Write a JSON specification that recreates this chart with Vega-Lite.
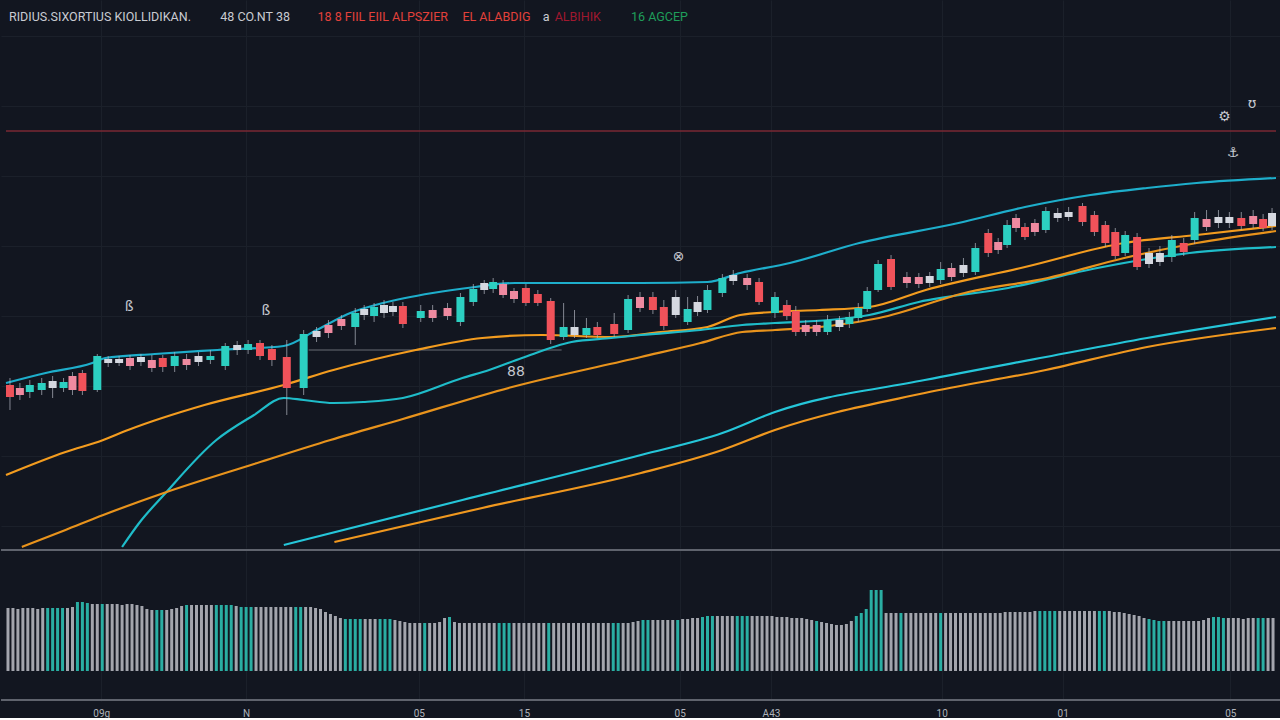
{
"$schema": "https://vega.github.io/schema/vega-lite/v6.json",
"background": "#121620",
"padding": 0,
"spacing": 0,
"config": {"view": {"stroke": null}, "axis": {"domain": false, "ticks": false, "gridColor": "#1b202a", "gridWidth": 1, "title": null}},
"resolve": {"scale": {"x": "independent", "y": "independent", "color": "independent"}},
"datasets": {
"header": [
{"t": 3, "s": "RIDIUS.SIXORTIUS KIOLLIDIKAN.", "g": "w"},
{"t": 216, "s": "48   CO.NT   38", "g": "w"},
{"t": 314, "s": "18 8 FIIL EIIL ALPSZIER", "g": "r"},
{"t": 460, "s": "EL ALABDIG", "g": "r"},
{"t": 541, "s": "a", "g": "w"},
{"t": 553, "s": "ALBIHIK", "g": "m"},
{"t": 630, "s": "16 AGCEP", "g": "g"}
],
"notes": [
{"t": 124, "p": 241, "s": "ß"},
{"t": 262, "p": 237, "s": "ß"},
{"t": 678, "p": 291, "s": "⊗"},
{"t": 514, "p": 176, "s": "88"},
{"t": 1228, "p": 431, "s": "⚙"},
{"t": 1256, "p": 444, "s": "ʊ"},
{"t": 1237, "p": 395, "s": "⚓"}
],
"levels": [
{"s": "res", "a": 0, "b": 1280, "p": 417},
{"s": "base", "a": 305, "b": 560, "p": 198}
],
"lines": [
{"s":"upper","t":0,"p":165},{"s":"upper","t":40,"p":175},{"s":"upper","t":87,"p":185},{"s":"upper","t":100,"p":190},{"s":"upper","t":150,"p":194},{"s":"upper","t":213,"p":198},{"s":"upper","t":280,"p":202},{"s":"upper","t":313,"p":218},{"s":"upper","t":347,"p":235},{"s":"upper","t":380,"p":245},{"s":"upper","t":430,"p":255},{"s":"upper","t":473,"p":261},{"s":"upper","t":513,"p":265},{"s":"upper","t":580,"p":265},{"s":"upper","t":640,"p":265},{"s":"upper","t":707,"p":266},{"s":"upper","t":740,"p":275},{"s":"upper","t":790,"p":285},{"s":"upper","t":860,"p":305},{"s":"upper","t":960,"p":325},{"s":"upper","t":1027,"p":341},{"s":"upper","t":1093,"p":353},{"s":"upper","t":1150,"p":360},{"s":"upper","t":1200,"p":365},{"s":"upper","t":1280,"p":370},
{"s":"ma","t":0,"p":73},{"s":"ma","t":60,"p":96},{"s":"ma","t":98,"p":108},{"s":"ma","t":123,"p":118},{"s":"ma","t":200,"p":143},{"s":"ma","t":280,"p":163},{"s":"ma","t":330,"p":178},{"s":"ma","t":413,"p":198},{"s":"ma","t":480,"p":210},{"s":"ma","t":540,"p":213},{"s":"ma","t":610,"p":211},{"s":"ma","t":660,"p":216},{"s":"ma","t":707,"p":221},{"s":"ma","t":740,"p":233},{"s":"ma","t":773,"p":236},{"s":"ma","t":820,"p":238},{"s":"ma","t":870,"p":241},{"s":"ma","t":927,"p":258},{"s":"ma","t":1027,"p":281},{"s":"ma","t":1127,"p":305},{"s":"ma","t":1200,"p":313},{"s":"ma","t":1280,"p":322},
{"s":"fast","t":117,"p":1},{"s":"fast","t":135,"p":26},{"s":"fast","t":159,"p":53},{"s":"fast","t":212,"p":108},{"s":"fast","t":250,"p":133},{"s":"fast","t":280,"p":150},{"s":"fast","t":300,"p":148},{"s":"fast","t":330,"p":145},{"s":"fast","t":360,"p":146},{"s":"fast","t":400,"p":150},{"s":"fast","t":460,"p":170},{"s":"fast","t":487,"p":178},{"s":"fast","t":520,"p":190},{"s":"fast","t":570,"p":206},{"s":"fast","t":610,"p":210},{"s":"fast","t":640,"p":213},{"s":"fast","t":700,"p":218},{"s":"fast","t":742,"p":223},{"s":"fast","t":775,"p":225},{"s":"fast","t":830,"p":228},{"s":"fast","t":870,"p":233},{"s":"fast","t":920,"p":246},{"s":"fast","t":1010,"p":260},{"s":"fast","t":1100,"p":280},{"s":"fast","t":1193,"p":295},{"s":"fast","t":1280,"p":301},
{"s":"slow","t":16,"p":1},{"s":"slow","t":60,"p":18},{"s":"slow","t":98,"p":33},{"s":"slow","t":159,"p":55},{"s":"slow","t":250,"p":84},{"s":"slow","t":327,"p":108},{"s":"slow","t":400,"p":129},{"s":"slow","t":510,"p":161},{"s":"slow","t":640,"p":191},{"s":"slow","t":700,"p":205},{"s":"slow","t":742,"p":216},{"s":"slow","t":775,"p":218},{"s":"slow","t":830,"p":222},{"s":"slow","t":880,"p":230},{"s":"slow","t":970,"p":256},{"s":"slow","t":1050,"p":270},{"s":"slow","t":1127,"p":290},{"s":"slow","t":1200,"p":305},{"s":"slow","t":1280,"p":317},
{"s":"bigc","t":280,"p":3},{"s":"bigc","t":460,"p":48},{"s":"bigc","t":640,"p":93},{"s":"bigc","t":722,"p":115},{"s":"bigc","t":775,"p":136},{"s":"bigc","t":926,"p":168},{"s":"bigc","t":1048,"p":191},{"s":"bigc","t":1150,"p":210},{"s":"bigc","t":1280,"p":231},
{"s":"bigo","t":331,"p":6},{"s":"bigo","t":480,"p":40},{"s":"bigo","t":640,"p":75},{"s":"bigo","t":722,"p":98},{"s":"bigo","t":775,"p":118},{"s":"bigo","t":926,"p":155},{"s":"bigo","t":1048,"p":178},{"s":"bigo","t":1150,"p":201},{"s":"bigo","t":1280,"p":220}
],
"candles": [
{"t":4,"o":163,"c":151,"hi":170,"lo":138,"k":"down"},
{"t":14,"o":160,"c":153,"hi":165,"lo":148,"k":"minor"},
{"t":24,"o":156,"c":163,"hi":168,"lo":150,"k":"up"},
{"t":36,"o":158,"c":165,"hi":170,"lo":153,"k":"up"},
{"t":47,"o":167,"c":160,"hi":172,"lo":150,"k":"doji"},
{"t":58,"o":160,"c":166,"hi":170,"lo":156,"k":"up"},
{"t":67,"o":172,"c":158,"hi":176,"lo":153,"k":"minor"},
{"t":77,"o":175,"c":157,"hi":178,"lo":153,"k":"down"},
{"t":92,"o":158,"c":192,"hi":194,"lo":156,"k":"up"},
{"t":103,"o":189,"c":185,"hi":192,"lo":181,"k":"doji"},
{"t":114,"o":189,"c":185,"hi":192,"lo":182,"k":"doji"},
{"t":125,"o":190,"c":182,"hi":193,"lo":178,"k":"minor"},
{"t":136,"o":191,"c":186,"hi":194,"lo":182,"k":"doji"},
{"t":147,"o":188,"c":180,"hi":193,"lo":176,"k":"minor"},
{"t":158,"o":190,"c":181,"hi":193,"lo":176,"k":"down"},
{"t":170,"o":182,"c":192,"hi":196,"lo":176,"k":"up"},
{"t":182,"o":189,"c":183,"hi":194,"lo":178,"k":"minor"},
{"t":194,"o":192,"c":186,"hi":196,"lo":182,"k":"doji"},
{"t":206,"o":188,"c":192,"hi":198,"lo":184,"k":"up"},
{"t":221,"o":182,"c":202,"hi":205,"lo":178,"k":"up"},
{"t":233,"o":203,"c":198,"hi":207,"lo":193,"k":"doji"},
{"t":244,"o":198,"c":204,"hi":208,"lo":194,"k":"up"},
{"t":256,"o":205,"c":192,"hi":208,"lo":188,"k":"down"},
{"t":268,"o":199,"c":188,"hi":203,"lo":182,"k":"down"},
{"t":283,"o":191,"c":160,"hi":208,"lo":133,"k":"down"},
{"t":300,"o":160,"c":214,"hi":218,"lo":153,"k":"up"},
{"t":313,"o":217,"c":211,"hi":221,"lo":206,"k":"doji"},
{"t":325,"o":223,"c":215,"hi":228,"lo":210,"k":"minor"},
{"t":338,"o":229,"c":222,"hi":233,"lo":218,"k":"minor"},
{"t":352,"o":221,"c":235,"hi":240,"lo":203,"k":"up"},
{"t":361,"o":239,"c":233,"hi":243,"lo":228,"k":"doji"},
{"t":371,"o":232,"c":241,"hi":245,"lo":226,"k":"up"},
{"t":381,"o":243,"c":235,"hi":248,"lo":230,"k":"doji"},
{"t":390,"o":242,"c":236,"hi":246,"lo":232,"k":"doji"},
{"t":400,"o":242,"c":224,"hi":246,"lo":220,"k":"down"},
{"t":418,"o":230,"c":237,"hi":243,"lo":226,"k":"up"},
{"t":430,"o":238,"c":230,"hi":243,"lo":226,"k":"minor"},
{"t":445,"o":240,"c":232,"hi":245,"lo":228,"k":"minor"},
{"t":458,"o":226,"c":251,"hi":255,"lo":222,"k":"up"},
{"t":471,"o":246,"c":259,"hi":264,"lo":242,"k":"up"},
{"t":482,"o":265,"c":258,"hi":268,"lo":254,"k":"doji"},
{"t":491,"o":259,"c":266,"hi":270,"lo":255,"k":"up"},
{"t":501,"o":264,"c":253,"hi":268,"lo":250,"k":"minor"},
{"t":512,"o":257,"c":249,"hi":260,"lo":245,"k":"minor"},
{"t":524,"o":260,"c":245,"hi":264,"lo":242,"k":"down"},
{"t":536,"o":254,"c":245,"hi":258,"lo":242,"k":"down"},
{"t":549,"o":247,"c":208,"hi":250,"lo":204,"k":"down"},
{"t":562,"o":211,"c":221,"hi":245,"lo":208,"k":"up"},
{"t":573,"o":221,"c":213,"hi":238,"lo":210,"k":"doji"},
{"t":585,"o":213,"c":220,"hi":230,"lo":210,"k":"up"},
{"t":596,"o":221,"c":213,"hi":226,"lo":210,"k":"down"},
{"t":613,"o":224,"c":214,"hi":235,"lo":211,"k":"down"},
{"t":627,"o":218,"c":249,"hi":253,"lo":215,"k":"up"},
{"t":639,"o":251,"c":240,"hi":256,"lo":236,"k":"minor"},
{"t":652,"o":251,"c":238,"hi":256,"lo":234,"k":"down"},
{"t":663,"o":241,"c":222,"hi":248,"lo":218,"k":"down"},
{"t":675,"o":251,"c":233,"hi":258,"lo":230,"k":"doji"},
{"t":687,"o":226,"c":239,"hi":251,"lo":223,"k":"up"},
{"t":697,"o":246,"c":236,"hi":252,"lo":232,"k":"doji"},
{"t":707,"o":238,"c":258,"hi":263,"lo":235,"k":"up"},
{"t":722,"o":255,"c":270,"hi":274,"lo":251,"k":"up"},
{"t":733,"o":273,"c":267,"hi":278,"lo":263,"k":"doji"},
{"t":747,"o":270,"c":263,"hi":274,"lo":258,"k":"minor"},
{"t":759,"o":266,"c":246,"hi":270,"lo":243,"k":"down"},
{"t":775,"o":235,"c":251,"hi":256,"lo":230,"k":"up"},
{"t":787,"o":243,"c":232,"hi":248,"lo":228,"k":"down"},
{"t":796,"o":237,"c":216,"hi":242,"lo":212,"k":"down"},
{"t":806,"o":223,"c":216,"hi":228,"lo":212,"k":"minor"},
{"t":817,"o":223,"c":216,"hi":228,"lo":212,"k":"minor"},
{"t":828,"o":216,"c":228,"hi":233,"lo":213,"k":"up"},
{"t":840,"o":228,"c":221,"hi":232,"lo":217,"k":"doji"},
{"t":850,"o":224,"c":231,"hi":236,"lo":220,"k":"up"},
{"t":859,"o":230,"c":240,"hi":245,"lo":226,"k":"up"},
{"t":868,"o":239,"c":257,"hi":261,"lo":236,"k":"up"},
{"t":879,"o":258,"c":284,"hi":288,"lo":256,"k":"up"},
{"t":892,"o":289,"c":261,"hi":293,"lo":258,"k":"down"},
{"t":908,"o":271,"c":265,"hi":276,"lo":260,"k":"minor"},
{"t":920,"o":271,"c":264,"hi":275,"lo":260,"k":"minor"},
{"t":931,"o":272,"c":265,"hi":276,"lo":261,"k":"doji"},
{"t":942,"o":268,"c":279,"hi":286,"lo":264,"k":"up"},
{"t":953,"o":280,"c":271,"hi":285,"lo":267,"k":"minor"},
{"t":965,"o":283,"c":275,"hi":290,"lo":271,"k":"doji"},
{"t":977,"o":276,"c":300,"hi":305,"lo":273,"k":"up"},
{"t":990,"o":315,"c":295,"hi":319,"lo":291,"k":"down"},
{"t":1000,"o":306,"c":298,"hi":310,"lo":294,"k":"minor"},
{"t":1009,"o":303,"c":323,"hi":328,"lo":300,"k":"up"},
{"t":1018,"o":330,"c":320,"hi":334,"lo":316,"k":"minor"},
{"t":1027,"o":321,"c":311,"hi":325,"lo":308,"k":"down"},
{"t":1037,"o":325,"c":316,"hi":329,"lo":312,"k":"minor"},
{"t":1048,"o":318,"c":337,"hi":341,"lo":315,"k":"up"},
{"t":1060,"o":335,"c":330,"hi":340,"lo":326,"k":"doji"},
{"t":1071,"o":336,"c":331,"hi":341,"lo":327,"k":"doji"},
{"t":1085,"o":342,"c":326,"hi":345,"lo":322,"k":"down"},
{"t":1097,"o":333,"c":316,"hi":337,"lo":312,"k":"down"},
{"t":1108,"o":323,"c":305,"hi":327,"lo":301,"k":"down"},
{"t":1118,"o":316,"c":292,"hi":320,"lo":289,"k":"down"},
{"t":1128,"o":295,"c":313,"hi":317,"lo":292,"k":"up"},
{"t":1140,"o":311,"c":281,"hi":315,"lo":278,"k":"down"},
{"t":1152,"o":295,"c":284,"hi":300,"lo":280,"k":"doji"},
{"t":1163,"o":295,"c":286,"hi":302,"lo":282,"k":"doji"},
{"t":1175,"o":291,"c":308,"hi":313,"lo":286,"k":"up"},
{"t":1187,"o":305,"c":296,"hi":310,"lo":292,"k":"down"},
{"t":1198,"o":308,"c":330,"hi":336,"lo":304,"k":"up"},
{"t":1210,"o":329,"c":321,"hi":338,"lo":317,"k":"minor"},
{"t":1222,"o":331,"c":325,"hi":338,"lo":320,"k":"doji"},
{"t":1233,"o":331,"c":325,"hi":336,"lo":320,"k":"doji"},
{"t":1245,"o":330,"c":322,"hi":336,"lo":318,"k":"down"},
{"t":1257,"o":332,"c":324,"hi":338,"lo":320,"k":"minor"},
{"t":1267,"o":329,"c":320,"hi":334,"lo":317,"k":"down"},
{"t":1276,"o":335,"c":322,"hi":340,"lo":318,"k":"doji"}
],
"vol": [
{"x":2,"v":63,"c":"g"},{"x":7,"v":63,"c":"g"},{"x":12,"v":62,"c":"g"},{"x":17,"v":63,"c":"g"},{"x":22,"v":63,"c":"g"},{"x":27,"v":63,"c":"g"},{"x":32,"v":62,"c":"g"},{"x":37,"v":63,"c":"g"},{"x":42,"v":63,"c":"t"},{"x":47,"v":63,"c":"t"},
{"x":52,"v":63,"c":"t"},{"x":57,"v":63,"c":"t"},{"x":62,"v":63,"c":"g"},{"x":67,"v":64,"c":"g"},{"x":72,"v":69,"c":"t"},{"x":77,"v":69,"c":"t"},{"x":82,"v":68,"c":"t"},{"x":87,"v":67,"c":"g"},{"x":92,"v":67,"c":"g"},{"x":97,"v":67,"c":"t"},
{"x":102,"v":67,"c":"g"},{"x":107,"v":67,"c":"g"},{"x":112,"v":67,"c":"g"},{"x":117,"v":66,"c":"g"},{"x":122,"v":67,"c":"g"},{"x":127,"v":67,"c":"g"},{"x":132,"v":66,"c":"g"},{"x":137,"v":65,"c":"g"},{"x":142,"v":62,"c":"g"},{"x":147,"v":61,"c":"g"},
{"x":152,"v":61,"c":"t"},{"x":157,"v":61,"c":"t"},{"x":162,"v":61,"c":"g"},{"x":167,"v":62,"c":"g"},{"x":172,"v":63,"c":"g"},{"x":177,"v":65,"c":"g"},{"x":182,"v":66,"c":"t"},{"x":187,"v":66,"c":"g"},{"x":192,"v":66,"c":"g"},{"x":197,"v":66,"c":"g"},
{"x":202,"v":66,"c":"g"},{"x":207,"v":66,"c":"g"},{"x":212,"v":66,"c":"t"},{"x":217,"v":66,"c":"t"},{"x":222,"v":66,"c":"t"},{"x":227,"v":66,"c":"t"},{"x":232,"v":65,"c":"g"},{"x":237,"v":64,"c":"t"},{"x":242,"v":64,"c":"t"},{"x":247,"v":64,"c":"t"},
{"x":252,"v":64,"c":"g"},{"x":257,"v":64,"c":"g"},{"x":262,"v":64,"c":"g"},{"x":267,"v":64,"c":"g"},{"x":272,"v":64,"c":"g"},{"x":277,"v":64,"c":"g"},{"x":282,"v":64,"c":"g"},{"x":287,"v":64,"c":"g"},{"x":292,"v":64,"c":"t"},{"x":297,"v":64,"c":"t"},
{"x":302,"v":64,"c":"g"},{"x":307,"v":64,"c":"g"},{"x":312,"v":63,"c":"g"},{"x":317,"v":62,"c":"g"},{"x":322,"v":59,"c":"g"},{"x":327,"v":57,"c":"g"},{"x":332,"v":55,"c":"g"},{"x":337,"v":53,"c":"g"},{"x":342,"v":52,"c":"t"},{"x":347,"v":52,"c":"t"},
{"x":352,"v":52,"c":"t"},{"x":357,"v":52,"c":"t"},{"x":362,"v":52,"c":"g"},{"x":367,"v":52,"c":"g"},{"x":372,"v":52,"c":"g"},{"x":377,"v":52,"c":"t"},{"x":382,"v":52,"c":"t"},{"x":387,"v":52,"c":"t"},{"x":392,"v":51,"c":"g"},{"x":397,"v":50,"c":"g"},
{"x":402,"v":49,"c":"g"},{"x":407,"v":48,"c":"g"},{"x":412,"v":48,"c":"g"},{"x":417,"v":48,"c":"g"},{"x":422,"v":48,"c":"t"},{"x":427,"v":48,"c":"g"},{"x":432,"v":48,"c":"g"},{"x":437,"v":49,"c":"g"},{"x":442,"v":53,"c":"g"},{"x":447,"v":54,"c":"t"},
{"x":452,"v":49,"c":"g"},{"x":457,"v":48,"c":"g"},{"x":462,"v":48,"c":"g"},{"x":467,"v":48,"c":"g"},{"x":472,"v":48,"c":"g"},{"x":477,"v":48,"c":"g"},{"x":482,"v":48,"c":"g"},{"x":487,"v":48,"c":"g"},{"x":492,"v":48,"c":"g"},{"x":497,"v":48,"c":"t"},
{"x":502,"v":48,"c":"t"},{"x":507,"v":48,"c":"t"},{"x":512,"v":48,"c":"g"},{"x":517,"v":48,"c":"g"},{"x":522,"v":48,"c":"g"},{"x":527,"v":48,"c":"g"},{"x":532,"v":48,"c":"g"},{"x":537,"v":48,"c":"g"},{"x":542,"v":48,"c":"g"},{"x":547,"v":48,"c":"t"},
{"x":552,"v":48,"c":"g"},{"x":557,"v":48,"c":"g"},{"x":562,"v":48,"c":"g"},{"x":567,"v":48,"c":"g"},{"x":572,"v":48,"c":"g"},{"x":577,"v":48,"c":"g"},{"x":582,"v":48,"c":"g"},{"x":587,"v":48,"c":"g"},{"x":592,"v":48,"c":"g"},{"x":597,"v":48,"c":"g"},
{"x":602,"v":48,"c":"g"},{"x":607,"v":48,"c":"g"},{"x":612,"v":48,"c":"t"},{"x":617,"v":48,"c":"t"},{"x":622,"v":48,"c":"g"},{"x":627,"v":48,"c":"g"},{"x":632,"v":49,"c":"g"},{"x":637,"v":50,"c":"g"},{"x":642,"v":51,"c":"t"},{"x":647,"v":51,"c":"t"},
{"x":652,"v":51,"c":"g"},{"x":657,"v":51,"c":"g"},{"x":662,"v":51,"c":"g"},{"x":667,"v":51,"c":"g"},{"x":672,"v":51,"c":"g"},{"x":677,"v":51,"c":"t"},{"x":682,"v":52,"c":"g"},{"x":687,"v":52,"c":"g"},{"x":692,"v":53,"c":"g"},{"x":697,"v":53,"c":"g"},
{"x":702,"v":54,"c":"t"},{"x":707,"v":55,"c":"t"},{"x":712,"v":55,"c":"t"},{"x":717,"v":55,"c":"g"},{"x":722,"v":55,"c":"g"},{"x":727,"v":55,"c":"g"},{"x":732,"v":55,"c":"g"},{"x":737,"v":55,"c":"t"},{"x":742,"v":55,"c":"t"},{"x":747,"v":55,"c":"t"},
{"x":752,"v":55,"c":"g"},{"x":757,"v":55,"c":"g"},{"x":762,"v":55,"c":"g"},{"x":767,"v":55,"c":"g"},{"x":772,"v":55,"c":"g"},{"x":777,"v":54,"c":"g"},{"x":782,"v":54,"c":"g"},{"x":787,"v":54,"c":"g"},{"x":792,"v":53,"c":"g"},{"x":797,"v":53,"c":"g"},
{"x":802,"v":53,"c":"g"},{"x":807,"v":52,"c":"g"},{"x":812,"v":51,"c":"g"},{"x":817,"v":50,"c":"t"},{"x":822,"v":49,"c":"g"},{"x":827,"v":48,"c":"g"},{"x":832,"v":47,"c":"g"},{"x":837,"v":46,"c":"g"},{"x":842,"v":46,"c":"g"},{"x":847,"v":47,"c":"g"},
{"x":852,"v":50,"c":"g"},{"x":857,"v":55,"c":"t"},{"x":862,"v":58,"c":"t"},{"x":867,"v":62,"c":"t"},{"x":872,"v":81,"c":"t"},{"x":877,"v":81,"c":"t"},{"x":882,"v":81,"c":"t"},{"x":887,"v":58,"c":"g"},{"x":892,"v":58,"c":"g"},{"x":897,"v":58,"c":"g"},
{"x":902,"v":58,"c":"t"},{"x":907,"v":58,"c":"g"},{"x":912,"v":58,"c":"g"},{"x":917,"v":58,"c":"g"},{"x":922,"v":58,"c":"g"},{"x":927,"v":58,"c":"g"},{"x":932,"v":58,"c":"g"},{"x":937,"v":58,"c":"g"},{"x":942,"v":58,"c":"t"},{"x":947,"v":58,"c":"g"},
{"x":952,"v":58,"c":"g"},{"x":957,"v":58,"c":"g"},{"x":962,"v":58,"c":"g"},{"x":967,"v":58,"c":"g"},{"x":972,"v":58,"c":"g"},{"x":977,"v":58,"c":"g"},{"x":982,"v":58,"c":"g"},{"x":987,"v":58,"c":"g"},{"x":992,"v":58,"c":"g"},{"x":997,"v":58,"c":"g"},
{"x":1002,"v":58,"c":"g"},{"x":1007,"v":59,"c":"g"},{"x":1012,"v":59,"c":"g"},{"x":1017,"v":59,"c":"g"},{"x":1022,"v":59,"c":"g"},{"x":1027,"v":59,"c":"g"},{"x":1032,"v":59,"c":"g"},{"x":1037,"v":60,"c":"g"},{"x":1042,"v":60,"c":"t"},{"x":1047,"v":60,"c":"t"},
{"x":1052,"v":60,"c":"t"},{"x":1057,"v":60,"c":"t"},{"x":1062,"v":60,"c":"g"},{"x":1067,"v":60,"c":"g"},{"x":1072,"v":60,"c":"g"},{"x":1077,"v":60,"c":"g"},{"x":1082,"v":60,"c":"g"},{"x":1087,"v":60,"c":"g"},{"x":1092,"v":60,"c":"g"},{"x":1097,"v":60,"c":"g"},
{"x":1102,"v":60,"c":"t"},{"x":1107,"v":60,"c":"t"},{"x":1112,"v":60,"c":"g"},{"x":1117,"v":59,"c":"g"},{"x":1122,"v":59,"c":"g"},{"x":1127,"v":58,"c":"g"},{"x":1132,"v":57,"c":"g"},{"x":1137,"v":56,"c":"g"},{"x":1142,"v":55,"c":"g"},{"x":1147,"v":53,"c":"g"},
{"x":1152,"v":52,"c":"t"},{"x":1157,"v":51,"c":"t"},{"x":1162,"v":50,"c":"t"},{"x":1167,"v":50,"c":"t"},{"x":1172,"v":50,"c":"g"},{"x":1177,"v":50,"c":"g"},{"x":1182,"v":50,"c":"g"},{"x":1187,"v":50,"c":"g"},{"x":1192,"v":50,"c":"g"},{"x":1197,"v":50,"c":"g"},
{"x":1202,"v":50,"c":"g"},{"x":1207,"v":51,"c":"g"},{"x":1212,"v":53,"c":"g"},{"x":1217,"v":54,"c":"t"},{"x":1222,"v":54,"c":"t"},{"x":1227,"v":53,"c":"t"},{"x":1232,"v":53,"c":"g"},{"x":1237,"v":53,"c":"g"},{"x":1242,"v":53,"c":"g"},{"x":1247,"v":52,"c":"g"},
{"x":1252,"v":53,"c":"g"},{"x":1257,"v":53,"c":"g"},{"x":1262,"v":53,"c":"t"},{"x":1267,"v":53,"c":"t"},{"x":1272,"v":53,"c":"g"},{"x":1277,"v":53,"c":"g"}
],
"seps": [{"v": 121}, {"v": -29}]
},
"vconcat": [
{
"width": 1280, "height": 548,
"resolve": {"scale": {"color": "independent"}},
"layer": [
{"data": {"name": "levels"}, "mark": {"type": "rule", "strokeWidth": 1.5},
 "encoding": {
  "x": {"field": "a", "type": "quantitative", "scale": {"domain": [0, 1280], "nice": false, "zero": false}, "axis": {"values": [96, 242, 416, 522, 679, 771, 943, 1065, 1234], "labels": false, "grid": true}},
  "x2": {"field": "b"},
  "y": {"field": "p", "type": "quantitative", "scale": {"domain": [0, 548], "nice": false, "zero": false}, "axis": {"values": [22, 57, 92, 127, 162, 197, 232, 267, 302, 337, 372, 407, 442, 477, 512], "labels": false, "grid": true}},
  "color": {"field": "s", "type": "nominal", "scale": {"domain": ["res", "base"], "range": ["#7a2833", "#4c5059"]}, "legend": null}
 }},
{"data": {"name": "lines"}, "mark": {"type": "line", "strokeWidth": 2.2, "interpolate": "monotone", "clip": true},
 "encoding": {
  "x": {"field": "t", "type": "quantitative"},
  "y": {"field": "p", "type": "quantitative"},
  "color": {"field": "s", "type": "nominal", "scale": {"domain": ["upper", "ma", "fast", "slow", "bigc", "bigo"], "range": ["#1eaecb", "#f39c1f", "#1fbcc9", "#e8931c", "#25c6d9", "#f0981f"]}, "legend": null}
 }},
{"data": {"name": "candles"}, "mark": {"type": "rule", "strokeWidth": 1, "color": "#b4b8c2", "opacity": 0.7},
 "encoding": {
  "x": {"field": "t", "type": "quantitative"},
  "y": {"field": "lo", "type": "quantitative"},
  "y2": {"field": "hi"}
 }},
{"data": {"name": "candles"}, "mark": {"type": "bar", "size": 8},
 "encoding": {
  "x": {"field": "t", "type": "quantitative"},
  "y": {"field": "o", "type": "quantitative"},
  "y2": {"field": "c"},
  "color": {"field": "k", "type": "nominal", "scale": {"domain": ["up", "down", "minor", "doji"], "range": ["#2ccfc1", "#f0525a", "#ef8aa0", "#d5d8e0"]}, "legend": null}
 }},
{"data": {"name": "notes"}, "mark": {"type": "text", "fontSize": 14, "color": "#c4c7ce", "font": "DejaVu Sans"},
 "encoding": {
  "x": {"field": "t", "type": "quantitative"},
  "y": {"field": "p", "type": "quantitative"},
  "text": {"field": "s"}
 }},
{"data": {"name": "header"}, "mark": {"type": "text", "fontSize": 12.5, "align": "left", "baseline": "middle", "font": "Roboto"},
 "encoding": {
  "x": {"field": "t", "type": "quantitative"},
  "y": {"datum": 531, "type": "quantitative"},
  "text": {"field": "s"},
  "color": {"field": "g", "type": "nominal", "scale": {"domain": ["w", "r", "m", "g"], "range": ["#c9cbd1", "#e2413b", "#a0182f", "#1f9e5a"]}, "legend": null}
 }}
]
},
{
"width": 1280, "height": 152,
"layer": [
{"data": {"name": "vol"}, "mark": {"type": "bar", "size": 3},
 "encoding": {
  "x": {"field": "x", "type": "quantitative", "scale": {"domain": [0, 1280], "nice": false, "zero": false},
   "axis": {"values": [96, 242, 416, 522, 679, 771, 943, 1065, 1234], "grid": true, "labelColor": "#aeb2ba", "labelFontSize": 10, "labelPadding": 7, "labelFont": "Roboto",
    "labelExpr": "datum.value==96?'09g':datum.value==242?'N':datum.value==416?'05':datum.value==522?'15':datum.value==679?'05':datum.value==771?'A43':datum.value==943?'10':datum.value==1065?'01':'05'"}},
  "y": {"field": "v", "type": "quantitative", "scale": {"domain": [-30, 122], "nice": false}, "axis": null},
  "color": {"field": "c", "type": "nominal", "scale": {"domain": ["g", "t"], "range": ["#a3a5ad", "#2aaea3"]}, "legend": null}
 }},
{"data": {"name": "seps"}, "mark": {"type": "rule", "color": "#5f636d", "strokeWidth": 2},
 "encoding": {"y": {"field": "v", "type": "quantitative"}}}
]
}
]
}
